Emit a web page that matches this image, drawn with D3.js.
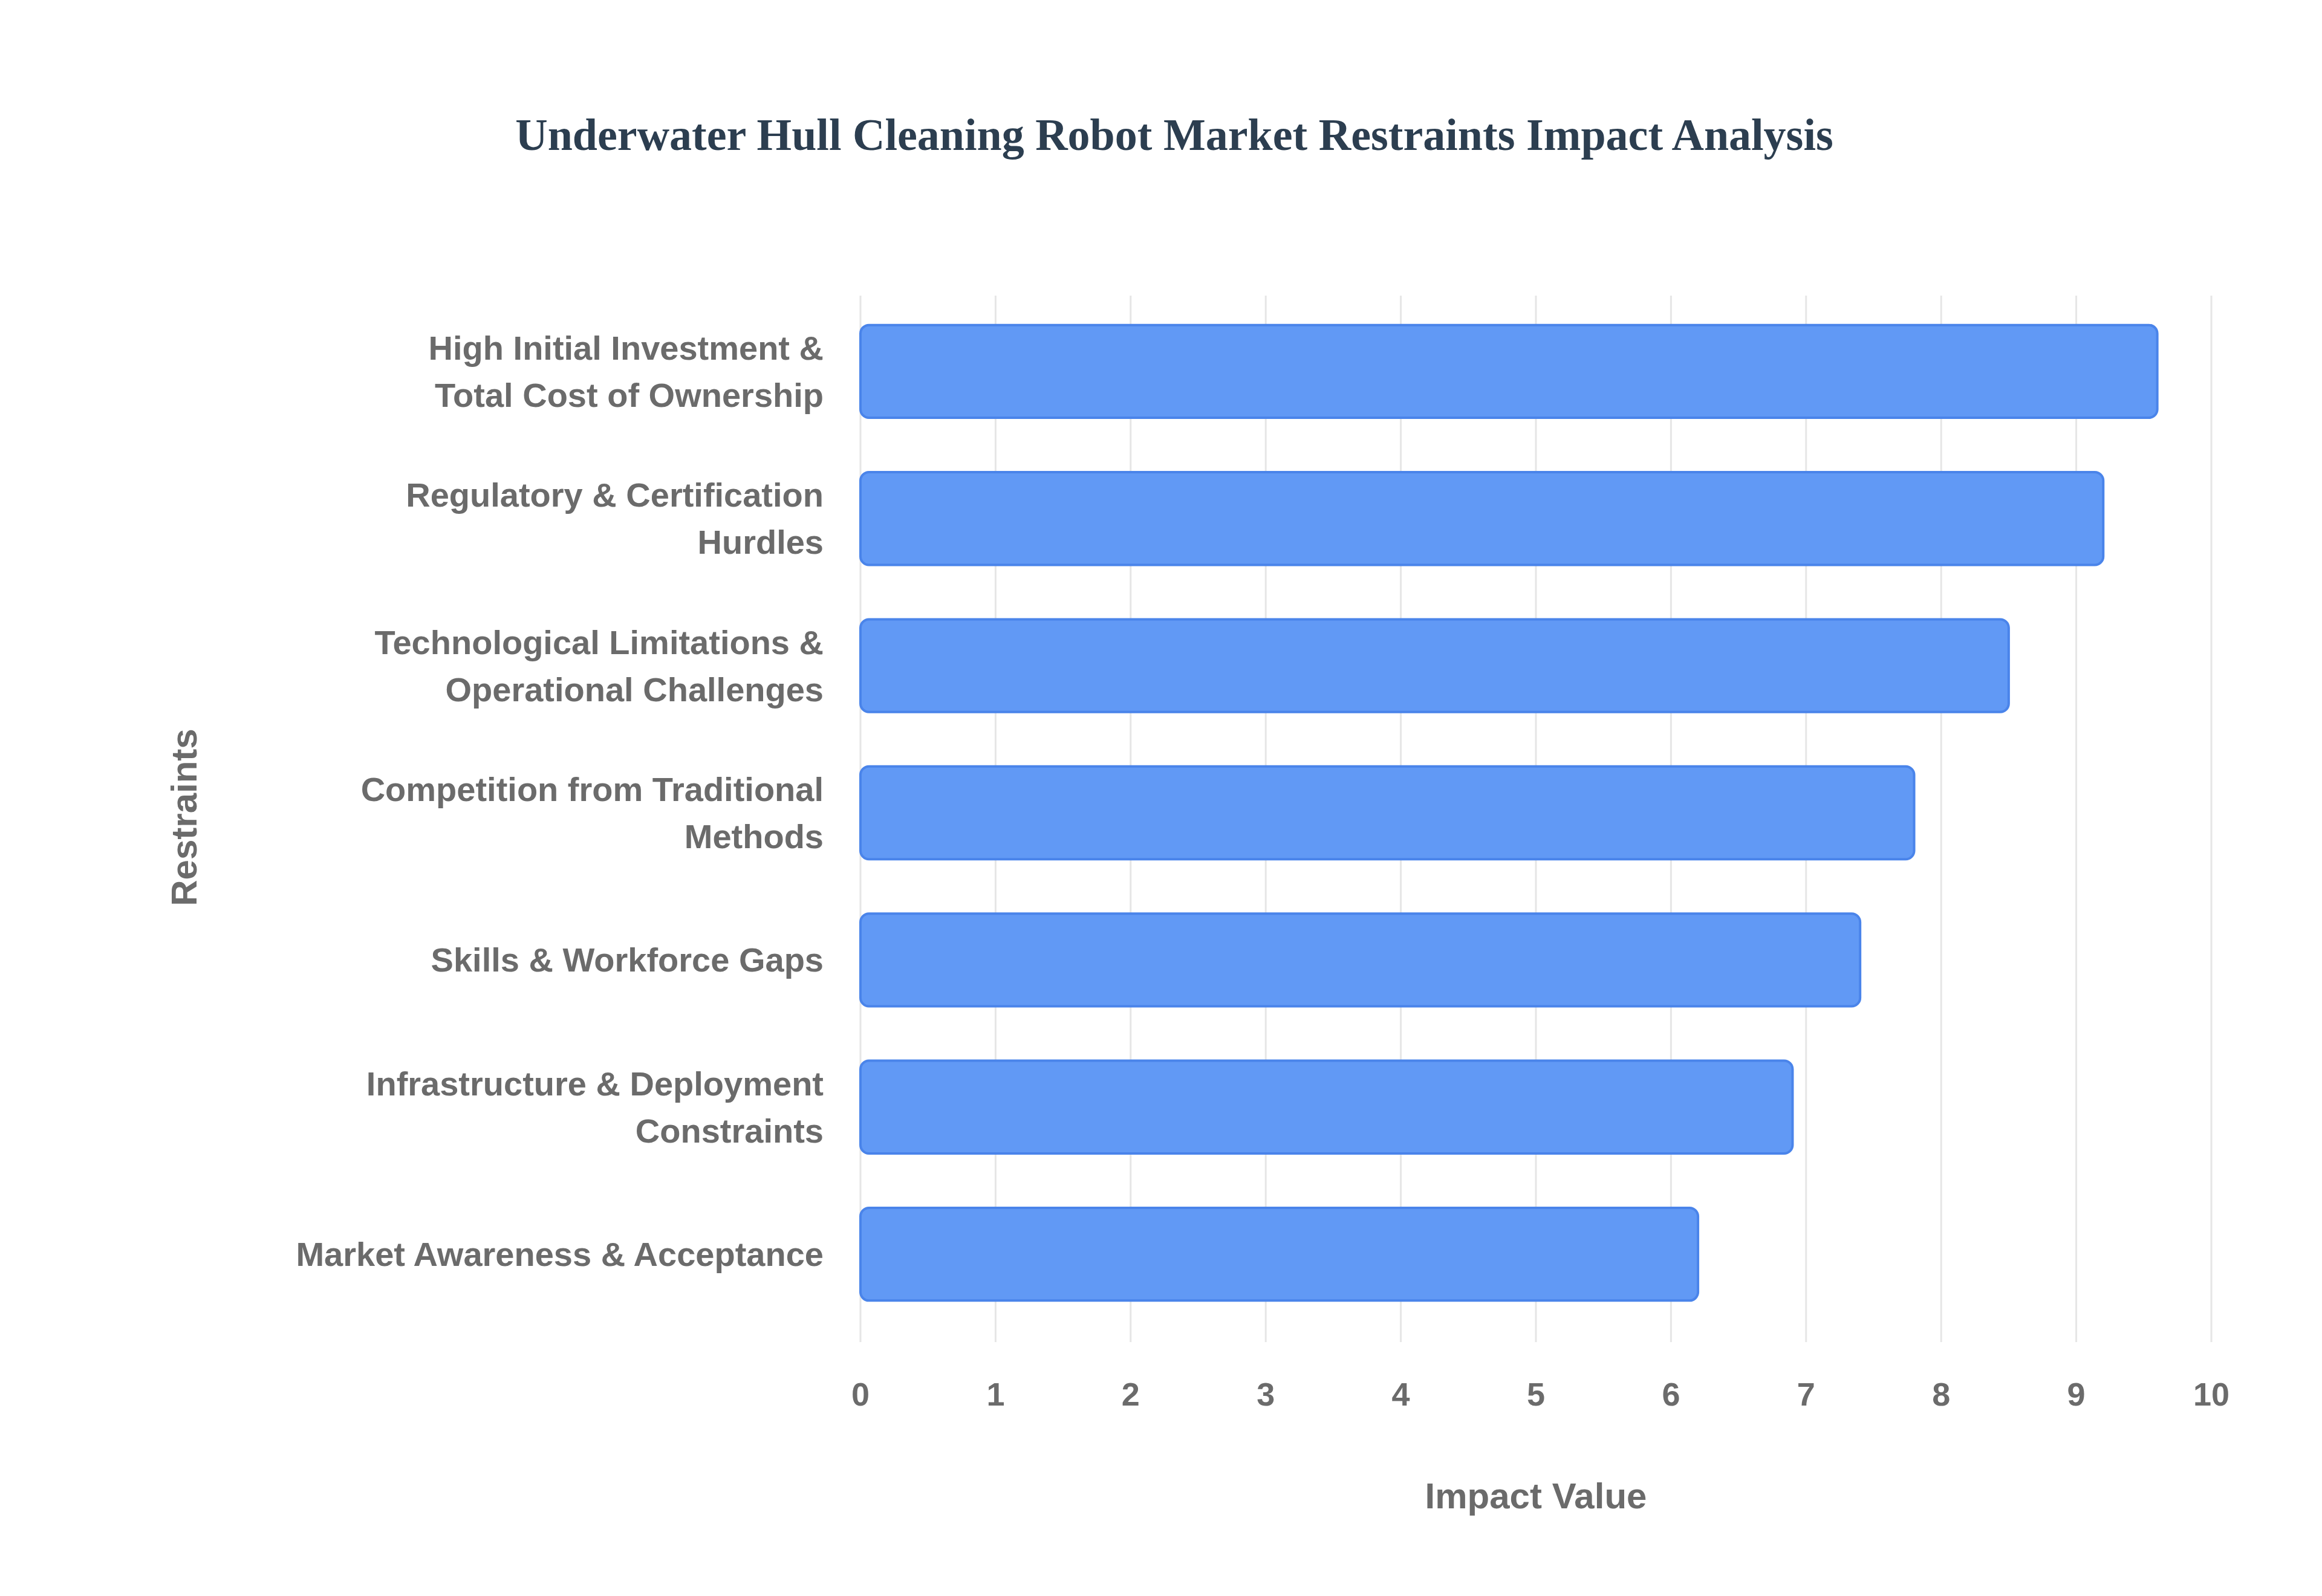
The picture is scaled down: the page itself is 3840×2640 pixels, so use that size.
<!DOCTYPE html>
<html><head><meta charset="utf-8">
<script src="https://cdn.jsdelivr.net/npm/d3@7"></script>
<style>body{margin:0;background:#fff}</style>
</head><body>
<svg id="chart"></svg>
<script>
const categories = [
  ["High Initial Investment &", "Total Cost of Ownership"],
  ["Regulatory & Certification", "Hurdles"],
  ["Technological Limitations &", "Operational Challenges"],
  ["Competition from Traditional", "Methods"],
  ["Skills & Workforce Gaps"],
  ["Infrastructure & Deployment", "Constraints"],
  ["Market Awareness & Acceptance"]
];
const values = [9.6, 9.2, 8.5, 7.8, 7.4, 6.9, 6.2];
const ticks = [0, 1, 2, 3, 4, 5, 6, 7, 8, 9, 10];

const width = 3840, height = 2640;
const m = {left: 1423, right: 3657, top: 489, bottom: 2200};

const svg = d3.select('#chart').attr('width', width).attr('height', height);

const x = d3.scaleLinear().domain([0, 10]).range([m.left, m.right]);
const y = d3.scaleBand().domain(d3.range(categories.length)).range([m.top, m.bottom]).paddingInner(0.37).paddingOuter(0.2);

svg.append('text')
  .attr('x', 1942).attr('y', 248)
  .attr('text-anchor', 'middle')
  .style('font-family', 'Liberation Serif, Times New Roman, serif')
  .style('font-weight', 'bold').style('font-size', '74px')
  .attr('fill', '#2c3e50')
  .text('Underwater Hull Cleaning Robot Market Restraints Impact Analysis');

svg.append('g').selectAll('line')
  .data(ticks).enter().append('line')
    .attr('x1', d => x(d)).attr('x2', d => x(d))
    .attr('y1', m.top).attr('y2', m.bottom + 20)
    .attr('stroke', '#e6e6e6').attr('stroke-width', 3);

svg.append('g').selectAll('rect')
  .data(values).enter().append('rect')
    .attr('x', x(0))
    .attr('y', (d, i) => y(i))
    .attr('width', d => x(d) - x(0))
    .attr('height', y.bandwidth())
    .attr('rx', 14)
    .attr('fill', '#6199f5')
    .attr('stroke', '#4a84ea').attr('stroke-width', 4);

const font = 'Liberation Sans, Arial, sans-serif';

const lab = svg.append('g').selectAll('text')
  .data(categories).enter().append('text')
    .attr('text-anchor', 'end')
    .style('font-family', font).style('font-weight', 'bold').style('font-size', '56px')
    .attr('fill', '#6b6b6b');
lab.each(function(d, i) {
  const cy = y(i) + y.bandwidth() / 2;
  const lh = 78;
  const start = cy - (d.length - 1) * lh / 2;
  d3.select(this).selectAll('tspan').data(d).enter().append('tspan')
    .attr('x', 1362).attr('y', (t, j) => start + j * lh).attr('dy', '0.35em').text(t => t);
});

svg.append('g').selectAll('text')
  .data(ticks).enter().append('text')
    .attr('x', d => x(d)).attr('y', 2325)
    .attr('text-anchor', 'middle')
    .style('font-family', font).style('font-weight', 'bold').style('font-size', '54px')
    .attr('fill', '#6b6b6b').text(d => d);

svg.append('text')
  .attr('x', 2540).attr('y', 2495).attr('text-anchor', 'middle')
  .style('font-family', font).style('font-weight', 'bold').style('font-size', '60px')
  .attr('fill', '#6b6b6b').text('Impact Value');

svg.append('text')
  .attr('transform', 'translate(325,1352) rotate(-90)').attr('text-anchor', 'middle')
  .style('font-family', font).style('font-weight', 'bold').style('font-size', '60px')
  .attr('fill', '#6b6b6b').text('Restraints');
</script>
</body></html>
